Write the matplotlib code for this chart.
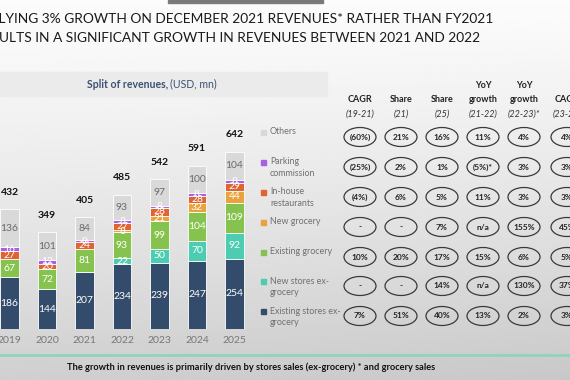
import matplotlib.pyplot as plt
from matplotlib.patches import Ellipse, Rectangle
import numpy as np

plt.rcParams['font.family'] = ['Lato', 'DejaVu Sans']

# data
years = ['2019', '2020', '2021', '2022', '2023', '2024', '2025']
existing_stores = [186, 144, 207, 234, 239, 247, 254]
new_stores = [0, 0, 0, 22, 50, 70, 92]
existing_grocery = [67, 72, 81, 93, 99, 104, 109]
new_grocery = [0, 0, 0, 8, 21, 32, 44]
inhouse_restaurants = [27, 20, 24, 27, 28, 28, 29]
parking_commission = [16, 12, 9, 8, 8, 8, 8]
others = [136, 101, 84, 93, 97, 100, 104]
totals = [432, 349, 405, 485, 542, 591, 642]

segment_names = ['Existing stores ex-\ngrocery', 'New stores ex-\ngrocery', 'Existing grocery',
                 'New grocery', 'In-house\nrestaurants', 'Parking\ncommission', 'Others']
segment_values = [existing_stores, new_stores, existing_grocery, new_grocery,
                  inhouse_restaurants, parking_commission, others]
segment_colors = ['#344c6c', '#4ccdb2', '#86c34e', '#e9a23c', '#df6430', '#a95fe2', '#d9d9d9']

col_top = ['', '', '', 'YoY', 'YoY', '']
col_main = ['CAGR', 'Share', 'Share', 'growth', 'growth', 'CAGR']
col_periods = ['(19-21)', '(21)', '(25)', '(21-22)', '(22-23)*', '(23-25)']
table_rows = [  # top to bottom, same order as the legend
    ['(60%)', '21%', '16%', '11%', '4%', '4%'],
    ['(25%)', '2%', '1%', '(5%)*', '3%', '3%'],
    ['(4%)', '6%', '5%', '11%', '3%', '3%'],
    ['-', '-', '7%', 'n/a', '155%', '45%'],
    ['10%', '20%', '17%', '15%', '6%', '5%'],
    ['-', '-', '14%', 'n/a', '130%', '37%'],
    ['7%', '51%', '40%', '13%', '2%', '3%'],
]

W, H = 570, 380
fig = plt.figure(figsize=(W / 100, H / 100), dpi=100)

# background slide
bg = fig.add_axes([0, 0, 1, 1])
bg.set_xlim(0, W)
bg.set_ylim(H, 0)
bg.axis('off')
yy, xx = np.mgrid[0:1:200j, 0:1:200j]
grad = 0.985 - 0.17 * yy ** 1.3 - 0.03 * xx * yy
bg.imshow(grad, cmap='gray', vmin=0, vmax=1, extent=[0, W, H, 0], aspect='auto', zorder=0)

bg.add_patch(Rectangle((168, 0), 155, 2.5, color='#7a7a7a', zorder=1))
bg.text(493, 19, 'APPLYING 3% GROWTH ON DECEMBER 2021 REVENUES* RATHER THAN FY2021',
        ha='right', va='center', fontsize=9.9, color='#1a1a1a', zorder=2)
bg.text(480, 38, 'RESULTS IN A SIGNIFICANT GROWTH IN REVENUES BETWEEN 2021 AND 2022',
        ha='right', va='center', fontsize=9.9, color='#1a1a1a', zorder=2)

bg.add_patch(Rectangle((0, 72), 327, 24, color='#ebebeb', zorder=1))
bg.text(168, 84, 'Split of revenues,', ha='right', va='center', fontsize=7.6,
        fontweight='bold', color='#3b5272', zorder=2)
bg.text(170, 84, '(USD, mn)', ha='left', va='center', fontsize=7.6, color='#3b5272', zorder=2)

# legend, top to bottom
legend_y = [132, 162, 192, 222, 252, 281, 311]
for name, color, ly in zip(segment_names[::-1], segment_colors[::-1], legend_y):
    bg.add_patch(Rectangle((261, ly - 2.5), 5, 5, color=color, zorder=2))
    bg.text(270, ly - 4.5, name, ha='left', va='top', fontsize=6.4, color='#707070',
            linespacing=1.35, zorder=2)

# table of circled figures
col_x = [360, 401, 442, 483, 524, 567]
for cx, t, m, p in zip(col_x, col_top, col_main, col_periods):
    if t:
        bg.text(cx, 85, t, ha='center', va='center', fontsize=6.5, fontweight='bold',
                color='#222222', zorder=2)
    bg.text(cx, 99, m, ha='center', va='center', fontsize=6.5, fontweight='bold',
            color='#222222', zorder=2)
    bg.text(cx, 114, p, ha='center', va='center', fontsize=6.5, style='italic',
            color='#333333', zorder=2)

for ry, row in zip(legend_y, table_rows):
    ry = ry + 5
    for cx, val in zip(col_x, row):
        bg.add_patch(Ellipse((cx, ry), 32, 19, fill=False, edgecolor='#3a3a3a',
                             linewidth=0.9, zorder=2))
        bg.text(cx, ry, val, ha='center', va='center', fontsize=6, fontweight='bold',
                color='#222222', zorder=3)

bg.plot([0, W], [355, 355], color='#8fd3c0', linewidth=2, zorder=2)
bg.text(251, 367, 'The growth in revenues is primarily driven by stores sales (ex-grocery) * and grocery sales',
        ha='center', va='center', fontsize=6.7, fontweight='bold', color='#111111', zorder=2)

# stacked bars
left_px, right_px = -9.25, 253.25
bottom_px, top_px = 329, 96
ax = fig.add_axes([left_px / W, (H - bottom_px) / H, (right_px - left_px) / W,
                   (bottom_px - top_px) / H])
ax.patch.set_alpha(0)
ax.set_xlim(-0.5, 6.5)
ax.set_ylim(0, (bottom_px - top_px) / (178 / 642))
x = np.arange(len(years))
base = np.zeros(len(years))
for vals, color in zip(segment_values, segment_colors):
    vals = np.array(vals, dtype=float)
    ax.bar(x, vals, 0.5, bottom=base, color=color, edgecolor='white', linewidth=0.6)
    txt_color = '#6b6b6b' if color == '#d9d9d9' else 'white'
    for xi, b, v in zip(x, base, vals):
        if v > 0:
            ax.text(xi, b + v / 2, f'{int(v)}', ha='center', va='center',
                    fontsize=7.5, color=txt_color)
    base += vals

for xi, t in zip(x, totals):
    ax.text(xi, t + 60, str(t), ha='center', va='center', fontsize=7.5,
            fontweight='bold', color='#111111')

ax.set_xticks(x)
ax.set_xticklabels(years, fontsize=7.5, color='#777777')
ax.tick_params(axis='x', length=0, pad=5)
ax.set_yticks([])
for s in ax.spines.values():
    s.set_visible(False)

fig.savefig('out.png', dpi=100)
